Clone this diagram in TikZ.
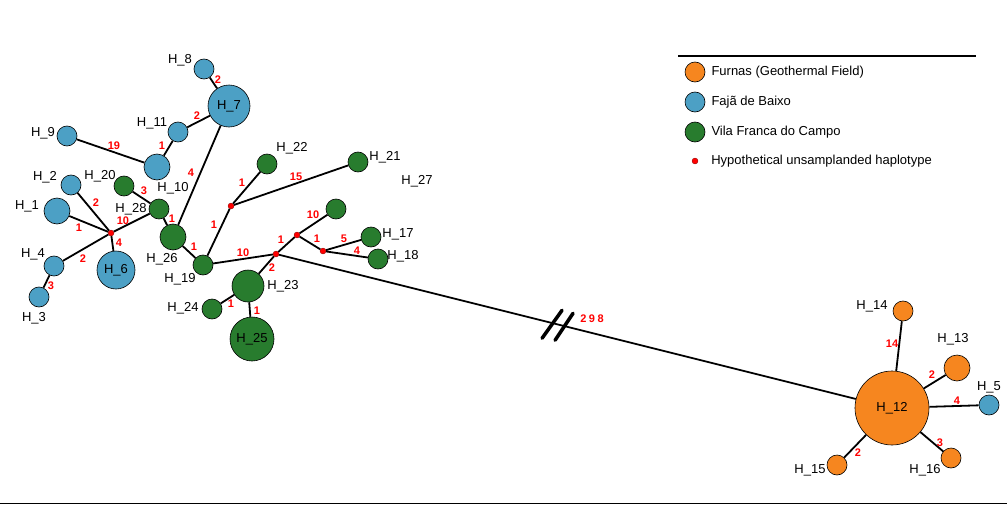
\documentclass[tikz,border=0pt]{standalone}
\usepackage{fontspec}
\setmainfont{Liberation Sans}
\usetikzlibrary{calc}
\usetikzlibrary{positioning}
\definecolor{furnas}{RGB}{246,134,31}
\definecolor{faja}{RGB}{76,160,197}
\definecolor{vila}{RGB}{40,124,46}
\definecolor{mutred}{RGB}{255,0,0}
\tikzset{
  hap/.style={circle, draw=black, line width=0.6pt, inner sep=0,
    minimum size=20pt, font=\fontsize{13}{15}\selectfont},
  fur/.style={hap, fill=furnas},
  faj/.style={hap, fill=faja},
  vfc/.style={hap, fill=vila},
  hyp/.style={circle, draw=black!50!red, line width=0.3pt, fill=mutred,
    inner sep=0, minimum size=6pt},
  hname/.style={inner sep=0, font=\fontsize{13}{15}\selectfont},
  steps/.style={inner sep=0, text=mutred, font=\bfseries\fontsize{11}{13}\selectfont},
  link/.style={line width=1.8pt},
  legend text/.style={inner sep=0, anchor=west, font=\fontsize{13}{15}\selectfont}
}

\begin{document}
\begin{tikzpicture}[x=1pt, y=-1pt]
  \useasboundingbox (0,0) rectangle (1007,506);

  % Faja de Baixo
  \node[faj] (H8) at (204,69) {};
  \node[faj, minimum size=42pt] (H7) at (229,106) {H\_7};
  \node[faj] (H11) at (178,132) {};
  \node[faj] (H9) at (67,136) {};
  \node[faj, minimum size=26pt] (H10) at (157,167) {};
  \node[faj] (H2) at (71,185) {};
  \node[faj, minimum size=26pt] (H1) at (57,211) {};
  \node[faj] (H4) at (54,266) {};
  \node[faj, minimum size=38pt] (H6) at (116,270) {H\_6};
  \node[faj] (H3) at (39,297) {};
  \node[faj] (H5) at (989,405) {};

  % Vila Franca do Campo
  \node[vfc] (H20) at (124,186) {};
  \node[vfc] (H28) at (159,209) {};
  \node[vfc, minimum size=26pt] (H26) at (173,237) {};
  \node[vfc] (H19) at (203,265) {};
  \node[vfc] (H24) at (212,309) {};
  \node[vfc, minimum size=32pt] (H23) at (248,286) {};
  \node[vfc, minimum size=44pt] (H25) at (252,339) {H\_25};
  \node[vfc] (H22) at (267,164) {};
  \node[vfc] (H21) at (358,162) {};
  \node[vfc] (H27) at (336,209) {};
  \node[vfc] (H17) at (371,237) {};
  \node[vfc] (H18) at (378,259) {};

  % Furnas
  \node[fur, minimum size=74pt] (H12) at (892,408) {H\_12};
  \node[fur] (H14) at (903,311) {};
  \node[fur, minimum size=26pt] (H13) at (957,368) {};
  \node[fur] (H16) at (951,458) {};
  \node[fur] (H15) at (837,465) {};

  % hypothetical haplotypes
  \node[hyp] (m1) at (111,233) {};
  \node[hyp] (m2) at (231,206) {};
  \node[hyp] (m3) at (297,235) {};
  \node[hyp] (m4) at (276,254) {};
  \node[hyp] (m5) at (323,251) {};

  % names
  \node[hname] (n8) at (180,60) {H\_8};
  \node[hname] (n11) at (152,123) {H\_11};
  \node[hname] (n9) at (43,133) {H\_9};
  \node[hname] (n10) at (173,188) {H\_10};
  \node[hname] (n20) at (100,176) {H\_20};
  \node[hname] (n2) at (45,177) {H\_2};
  \node[hname] (n1) at (27,206) {H\_1};
  \node[hname] (n28) at (131,209) {H\_28};
  \node[hname] (n26) at (162,259) {H\_26};
  \node[hname] (n4) at (33,254) {H\_4};
  \node[hname] (n3) at (34,318) {H\_3};
  \node[hname] (n19) at (180,279) {H\_19};
  \node[hname] (n24) at (183,308) {H\_24};
  \node[hname] (n22) at (292,148) {H\_22};
  \node[hname] (n21) at (385,157) {H\_21};
  \node[hname] (n27) at (417,181) {H\_27};
  \node[hname] (n17) at (398,234) {H\_17};
  \node[hname] (n18) at (403,256) {H\_18};
  \node[hname] (n23) at (283,286) {H\_23};
  \node[hname] (n14) at (872,306) {H\_14};
  \node[hname] (n13) at (953,339) {H\_13};
  \node[hname] (n5) at (989,387) {H\_5};
  \node[hname] (n16) at (925,470) {H\_16};
  \node[hname] (n15) at (810,470) {H\_15};

  % links
  \draw[link] (H8) -- (H7);
  \draw[link] (H7) -- (H11);
  \draw[link] (H11) -- (H10);
  \draw[link] (H9) -- (H10);
  \draw[link] (H7) -- (H26);
  \draw[link] (H20) -- (H28);
  \draw[link] (H2) -- (m1);
  \draw[link] (H1) -- (m1);
  \draw[link] (m1) -- (H28);
  \draw[link] (m1) -- (H6);
  \draw[link] (m1) -- (H4);
  \draw[link] (H4) -- (H3);
  \draw[link] (H28) -- (H26);
  \draw[link] (H26) -- (H19);
  \draw[link] (H19) -- (m2);
  \draw[link] (m2) -- (H22);
  \draw[link] (m2) -- (H21);
  \draw[link] (H19) -- (m4);
  \draw[link] (m4) -- (m3);
  \draw[link] (m3) -- (H27);
  \draw[link] (m3) -- (m5);
  \draw[link] (m5) -- (H17);
  \draw[link] (m5) -- (H18);
  \draw[link] (m4) -- (H23);
  \draw[link] (H23) -- (H24);
  \draw[link] (H23) -- (H25);
  \draw[link] (m4) -- coordinate[pos=0.482] (brk) (H12);
  \draw[link] (H12) -- (H14);
  \draw[link] (H12) -- (H13);
  \draw[link] (H12) -- (H5);
  \draw[link] (H12) -- (H16);
  \draw[link] (H12) -- (H15);

  % break mark
  \draw[line width=3.5pt, line cap=round] ($(brk)+(-15,14)$) -- ($(brk)+(5,-14)$);
  \draw[line width=3.5pt, line cap=round] ($(brk)+(-2,16)$) -- ($(brk)+(16,-11)$);
  \node[steps] (s298) at (592,319) {2\kern2.5pt9\kern2.5pt8};

  % mutational steps
  \node[steps] (s8) at (218,80) {2};
  \node[steps] (s11) at (197,116) {2};
  \node[steps] (s10) at (162,146) {1};
  \node[steps] (s9) at (114,146) {19};
  \node[steps] (s7) at (191,173) {4};
  \node[steps] (s20) at (144,191) {3};
  \node[steps] (s2) at (96,203) {2};
  \node[steps] (s1) at (79,228) {1};
  \node[steps] (s28) at (123,221) {10};
  \node[steps] (s6) at (119,243) {4};
  \node[steps] (s4) at (83,259) {2};
  \node[steps] (s3) at (51,286) {3};
  \node[steps] (s26) at (172,219) {1};
  \node[steps] (s19) at (194,247) {1};
  \node[steps] (sm2) at (214,225) {1};
  \node[steps] (s22) at (242,183) {1};
  \node[steps] (s21) at (296,177) {15};
  \node[steps] (sm4) at (243,253) {10};
  \node[steps] (sm3) at (281,240) {1};
  \node[steps] (s27) at (313,215) {10};
  \node[steps] (sm5) at (317,239) {1};
  \node[steps] (s17) at (344,239) {5};
  \node[steps] (s18) at (357,251) {4};
  \node[steps] (s23) at (272,268) {2};
  \node[steps] (s24) at (231,304) {1};
  \node[steps] (s25) at (257,311) {1};
  \node[steps] (s14) at (892,344) {14};
  \node[steps] (s13) at (932,375) {2};
  \node[steps] (s5) at (957,401) {4};
  \node[steps] (s16) at (940,443) {3};
  \node[steps] (s15) at (858,453) {2};

  % legend
  \draw[line width=1.3pt] (678,56) -- (976,56);
  \node[fur] (lgfur) at (695,72) {};
  \node[legend text, right=6pt of lgfur] (lgfurt) {Furnas (Geothermal Field)};
  \node[faj] (lgfaj) at (695,102) {};
  \node[legend text, right=6pt of lgfaj] (lgfajt) {Fajã de Baixo};
  \node[vfc] (lgvfc) at (695,132) {};
  \node[legend text, right=6pt of lgvfc] (lgvfct) {Vila Franca do Campo};
  \node[hyp] (lghyp) at (695,161) {};
  \node[legend text, right=13pt of lghyp] (lghypt) {Hypothetical unsamplanded haplotype};

  \draw[line width=1.5pt] (0,503.5) -- (1007,503.5);
\end{tikzpicture}
\end{document}
